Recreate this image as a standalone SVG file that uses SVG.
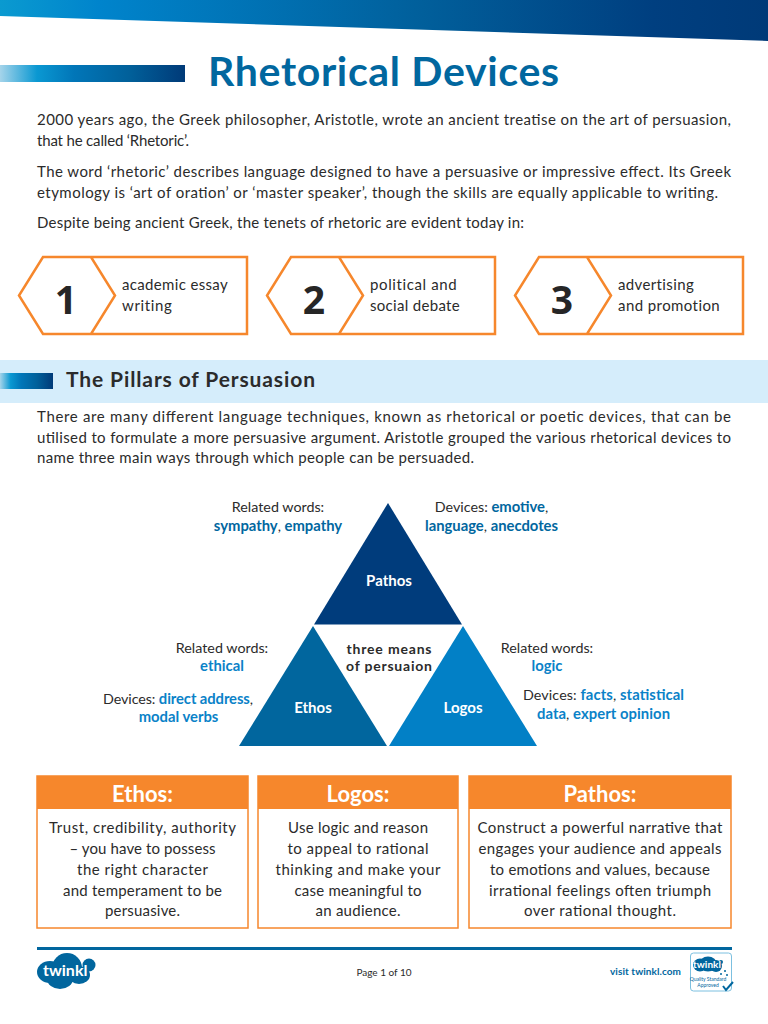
<svg xmlns="http://www.w3.org/2000/svg" width="768" height="1024" viewBox="0 0 768 1024">
<defs>
<linearGradient id="top" x1="0" x2="1" y1="0" y2="0"><stop offset="0" stop-color="#0a9ad0"/><stop offset=".13" stop-color="#0084cc"/><stop offset=".55" stop-color="#015f9b"/><stop offset=".85" stop-color="#003f80"/><stop offset="1" stop-color="#003a78"/></linearGradient>
<linearGradient id="bar" x1="0" x2="1" y1="0" y2="0"><stop offset="0" stop-color="#a5d4ea"/><stop offset=".2" stop-color="#0a98d2"/><stop offset=".4" stop-color="#0176b8"/><stop offset=".7" stop-color="#01609a"/><stop offset="1" stop-color="#003a78"/></linearGradient>
</defs>
<style>
text{font-family:"Lato","Noto Sans",sans-serif;fill:#2b2b2b}
.b{font-size:15px}
.card{font-size:15px;letter-spacing:.3px}
.s{font-size:14.300px}
.bd{font-weight:700;font-size:14.800px}
.c1{fill:#01679f}.c2{fill:#0a82c8}
.m{text-anchor:middle}
.num{font-size:39px;font-weight:700;text-anchor:middle;font-family:"Open Sans",sans-serif;fill:#262626}
.tri{font-size:15px;font-weight:700;fill:#fff;text-anchor:middle}
.o{fill:none;stroke:#f6872c;stroke-width:2.5}
.h{fill:#f6872c}
.ht{font-size:22px;font-weight:700;fill:#fff;text-anchor:middle}
</style>
<g id="header">
<path d="M0 0H768V41L0 16Z" fill="url(#top)"/>
<rect x="0" y="65" width="185" height="17" fill="url(#bar)"/>
<text x="208" y="86" font-size="41" font-weight="700" style="fill:#01679f" textLength="351">Rhetorical Devices</text>
</g>
<g id="intro" class="b">
<text class="b" x="37" y="125" textLength="694">2000 years ago, the Greek philosopher, Aristotle, wrote an ancient treatise on the art of persuasion,</text>
<text class="b" x="37" y="146" textLength="152">that he called ‘Rhetoric’.</text>
<text class="b" x="37" y="177" textLength="694">The word ‘rhetoric’ describes language designed to have a persuasive or impressive effect. Its Greek</text>
<text class="b" x="37" y="198" textLength="681">etymology is ‘art of oration’ or ‘master speaker’, though the skills are equally applicable to writing.</text>
<text class="b" x="37" y="228" textLength="487">Despite being ancient Greek, the tenets of rhetoric are evident today in:</text>
</g>
<g id="item1">
<path class="o" d="M91 257H247V334H91M43 257H91L115 295.500L91 334H43L19 295.500Z"/>
<text class="num" x="66" y="314">1</text>
<text class="card" x="122" y="290" textLength="106">academic essay</text>
<text class="card" x="122" y="311" textLength="50">writing</text>
</g>
<g id="item2">
<path class="o" d="M339 257H495V334H339M291 257H339L363 295.500L339 334H291L267 295.500Z"/>
<text class="num" x="314" y="314">2</text>
<text class="card" x="370" y="290" textLength="87">political and</text>
<text class="card" x="370" y="311" textLength="90">social debate</text>
</g>
<g id="item3">
<path class="o" d="M587 257H743V334H587M539 257H587L611 295.500L587 334H539L515 295.500Z"/>
<text class="num" x="562" y="314">3</text>
<text class="card" x="618" y="290" textLength="76">advertising</text>
<text class="card" x="618" y="311" textLength="102">and promotion</text>
</g>
<g id="section">
<rect x="0" y="360" width="768" height="43" fill="#d5edfb"/>
<rect x="0" y="373" width="53" height="16" fill="url(#bar)"/>
<text x="66" y="387" font-size="21" font-weight="700" textLength="249">The Pillars of Persuasion</text>
</g>
<g id="para">
<text class="b" x="37" y="422" textLength="694">There are many different language techniques, known as rhetorical or poetic devices, that can be</text>
<text class="b" x="37" y="443" textLength="694">utilised to formulate a more persuasive argument. Aristotle grouped the various rhetorical devices to</text>
<text class="b" x="37" y="463" textLength="437">name three main ways through which people can be persuaded.</text>
</g>
<g id="pathos">
<path d="M388 503L462 624.500H314Z" fill="#003c7c"/>
<text class="tri" x="389" y="586">Pathos</text>
</g>
<g id="ethos">
<path d="M313 626L387 746H239Z" fill="#01669e"/>
<text class="tri" x="313" y="713">Ethos</text>
</g>
<g id="logos">
<path d="M463 626L537 746H389Z" fill="#0280c6"/>
<text class="tri" x="463" y="713">Logos</text>
</g>
<g id="center">
<text class="m" font-weight="700" x="389" y="654" font-size="14" textLength="85">three means</text>
<text class="m" font-weight="700" x="389" y="671" font-size="14" textLength="86">of persuaion</text>
</g>
<g id="labels">
<text class="s m" x="278" y="512">Related words:</text>
<text class="s m" x="278" y="531"><tspan class="bd c1">sympathy</tspan>, <tspan class="bd c1">empathy</tspan></text>
<text class="s m" x="491.500" y="512"><tspan>Devices: </tspan><tspan class="bd c1">emotive</tspan>,</text>
<text class="s m" x="491.500" y="531" textLength="133"><tspan class="bd c1">language</tspan>, <tspan class="bd c1">anecdotes</tspan></text>
<text class="s m" x="222" y="653">Related words:</text>
<text class="s m bd c2" x="222" y="671">ethical</text>
<text class="s m" x="178" y="704" textLength="150"><tspan>Devices: </tspan><tspan class="bd c2">direct address</tspan>,</text>
<text class="s m bd c2" x="178.500" y="722">modal verbs</text>
<text class="s m" x="547" y="653">Related words:</text>
<text class="s m bd c2" x="547" y="671">logic</text>
<text class="s m" x="603.500" y="700" textLength="161"><tspan>Devices: </tspan><tspan class="bd c2">facts</tspan>, <tspan class="bd c2">statistical</tspan></text>
<text class="s m" x="603.500" y="719" textLength="133"><tspan class="bd c2">data</tspan>, <tspan class="bd c2">expert opinion</tspan></text>
</g>
<g id="box-ethos">
<rect class="o" x="37" y="776" width="211" height="152" style="stroke-width:1.500"/>
<rect class="h" x="37" y="776" width="211" height="33"/>
<text class="ht" x="142.500" y="802">Ethos:</text>
<text class="b m" x="142.500" y="833" textLength="187">Trust, credibility, authority</text>
<text class="b m" x="142.500" y="854" textLength="146">– you have to possess</text>
<text class="b m" x="142.500" y="875" textLength="131">the right character</text>
<text class="b m" x="142.500" y="896" textLength="159">and temperament to be</text>
<text class="b m" x="142.500" y="916" textLength="75">persuasive.</text>
</g>
<g id="box-logos">
<rect class="o" x="258" y="776" width="200" height="152" style="stroke-width:1.500"/>
<rect class="h" x="258" y="776" width="200" height="33"/>
<text class="ht" x="358" y="802">Logos:</text>
<text class="b m" x="358" y="833" textLength="140">Use logic and reason</text>
<text class="b m" x="358" y="854" textLength="141">to appeal to rational</text>
<text class="b m" x="358" y="875" textLength="165">thinking and make your</text>
<text class="b m" x="358" y="896" textLength="127">case meaningful to</text>
<text class="b m" x="358" y="916" textLength="85">an audience.</text>
</g>
<g id="box-pathos">
<rect class="o" x="469" y="776" width="262" height="152" style="stroke-width:1.500"/>
<rect class="h" x="469" y="776" width="262" height="33"/>
<text class="ht" x="600" y="802">Pathos:</text>
<text class="b m" x="600" y="833" textLength="245">Construct a powerful narrative that</text>
<text class="b m" x="600" y="854" textLength="243">engages your audience and appeals</text>
<text class="b m" x="600" y="875" textLength="220">to emotions and values, because</text>
<text class="b m" x="600" y="896" textLength="222">irrational feelings often triumph</text>
<text class="b m" x="600" y="916" textLength="152">over rational thought.</text>
</g>
<g id="footer">
<rect x="37" y="947" width="695" height="3" fill="#01669e"/>
<g id="logo" fill="#01669e">
<ellipse cx="50" cy="972" rx="13" ry="11"/><ellipse cx="67" cy="968" rx="15" ry="15"/><ellipse cx="60" cy="979" rx="13" ry="10"/><ellipse cx="79" cy="975" rx="11" ry="9"/><circle cx="89" cy="965" r="6.500"/>
<text x="43" y="976" font-size="16" font-weight="700" style="fill:#fff">twinkl</text>
</g>
<text x="384" y="976" font-size="10" class="m">Page 1 of 10</text>
<text x="610" y="975" font-size="10" font-weight="700" style="fill:#01669e" textLength="71">visit twinkl.com</text>
<g id="badge">
<rect x="690.500" y="953" width="41" height="38" rx="3" fill="#fff" stroke="#7cc0e0" stroke-width="1"/>
<ellipse cx="700" cy="965" rx="7" ry="6.500" fill="#01669e"/><ellipse cx="708" cy="964" rx="9" ry="7.500" fill="#01669e"/><ellipse cx="716" cy="966" rx="6" ry="6" fill="#01669e"/><circle cx="721" cy="962" r="2" fill="#01669e"/>
<text x="707" y="968" font-size="10" font-weight="700" class="m" style="fill:#fff">twinkl</text>
<circle cx="725" cy="971" r="1" fill="#01669e"/><circle cx="721" cy="974" r="1" fill="#01669e"/><circle cx="727" cy="975" r="1" fill="#01669e"/>
<text x="708" y="981" font-size="5" class="m" style="fill:#01669e">Quality Standard</text>
<text x="708" y="987" font-size="5" class="m" style="fill:#01669e">Approved</text>
<path d="M723 986L726 990L733 982" fill="none" stroke="#01669e" stroke-width="2"/>
</g>
</g>
</svg>
